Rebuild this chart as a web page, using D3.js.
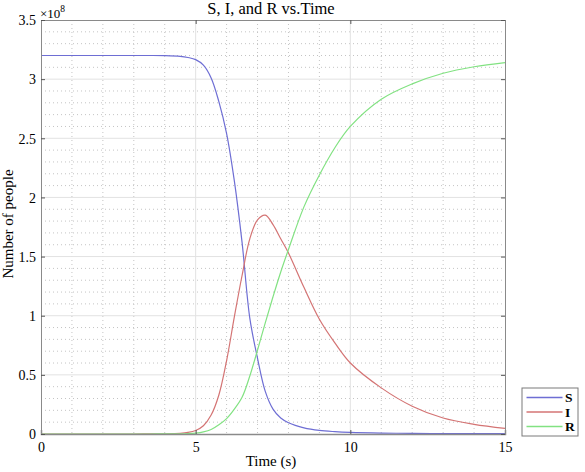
<!DOCTYPE html>
<html>
<head>
<meta charset="utf-8">
<script src="https://cdn.jsdelivr.net/npm/d3@7"></script>
<style>
  html, body { margin: 0; padding: 0; background: #fff; }
  svg { display: block; }
  svg text { font-family: 'Liberation Serif', 'Times New Roman', Times, serif !important; fill: #000; }
</style>
</head>
<body>
<svg id="chart" width="585" height="472"></svg>
<script>
// Time samples (s)
const times = [0,1,2,3,3.5,4,4.5,4.75,5,5.25,5.5,5.75,6,6.25,6.5,6.75,7,7.25,7.5,7.75,8,8.5,9,9.5,10,11,12,13,14,15];
// Values in units of 1e8 people
const sValues = [3.2,3.2,3.2,3.2,3.2,3.199,3.193,3.183,3.165,3.118,3.01,2.81,2.54,2.14,1.62,0.98,0.64,0.36,0.21,0.135,0.095,0.052,0.03,0.02,0.014,0.008,0.005,0.004,0.003,0.003];
const iValues = [0,0,0,0,0.001,0.002,0.006,0.013,0.03,0.07,0.16,0.33,0.62,0.99,1.34,1.65,1.81,1.85,1.77,1.65,1.53,1.24,0.97,0.77,0.60,0.39,0.235,0.135,0.082,0.048];
const rValues = [0,0,0,0,0,0.001,0.002,0.004,0.008,0.018,0.038,0.078,0.13,0.21,0.31,0.49,0.71,0.94,1.16,1.37,1.56,1.92,2.19,2.42,2.60,2.83,2.96,3.05,3.105,3.14];
const seriesNames = ["S","I","R"];
const seriesColors = ["#6e6ed4","#d47474","#82e282"];
const xTicks = [0,5,10,15];
const yTicks = [0,0.5,1,1.5,2,2.5,3,3.5];
const yTickLabels = ["0","0.5","1","1.5","2","2.5","3","3.5"];
const xMinor = d3.range(0,16,1);
const yMinor = d3.range(0,36,1).map(d => d/10);

const FONT = "'Liberation Serif', 'Times New Roman', Times, serif";
const svg = d3.select("#chart");
const margin = {left: 41, top: 20};
const pw = 505 - margin.left, ph = 434 - margin.top;
const g = svg.append("g").attr("transform", `translate(${margin.left},${margin.top})`);

const x = d3.scaleLinear().domain([0,15]).range([0,pw]);
const y = d3.scaleLinear().domain([0,3.5]).range([ph,0]);

// minor grid (dotted)
g.append("g").selectAll("line").data(xMinor.filter(d => d%5 !== 0)).join("line")
  .attr("x1", d => x(d)).attr("x2", d => x(d)).attr("y1", 0).attr("y2", ph)
  .attr("stroke", "#c4c4c4").attr("stroke-width", 1).attr("stroke-dasharray", "1,3");
g.append("g").selectAll("line").data(yMinor.filter(d => Math.round(d*10)%5 !== 0)).join("line")
  .attr("y1", d => y(d)).attr("y2", d => y(d)).attr("x1", 0).attr("x2", pw)
  .attr("stroke", "#c4c4c4").attr("stroke-width", 1).attr("stroke-dasharray", "1,3");
// major grid
g.append("g").selectAll("line").data(xTicks.slice(1,-1)).join("line")
  .attr("x1", d => x(d)).attr("x2", d => x(d)).attr("y1", 0).attr("y2", ph)
  .attr("stroke", "#e2e2e2").attr("stroke-width", 1);
g.append("g").selectAll("line").data(yTicks.slice(1,-1)).join("line")
  .attr("y1", d => y(d)).attr("y2", d => y(d)).attr("x1", 0).attr("x2", pw)
  .attr("stroke", "#e2e2e2").attr("stroke-width", 1);

// lines
const allSeries = [sValues, iValues, rValues];
const line = d3.line().x((d,i) => x(times[i])).y(d => y(d)).curve(d3.curveCatmullRom.alpha(0.5));
allSeries.forEach((vals, k) => {
  g.append("path").datum(vals).attr("d", line)
    .attr("fill", "none").attr("stroke", seriesColors[k]).attr("stroke-width", 1.2);
});

// axes box
const axisColor = "#8a8a8a";
const xAxisB = d3.axisBottom(x).tickValues(xTicks).tickSize(-4).tickPadding(5).tickFormat(d3.format("d"));
const xAxisT = d3.axisTop(x).tickValues(xTicks).tickSize(-4).tickFormat("");
const yAxisL = d3.axisLeft(y).tickValues(yTicks).tickSize(-4).tickPadding(5).tickFormat((d,i) => yTickLabels[i]);
const yAxisR = d3.axisRight(y).tickValues(yTicks).tickSize(-4).tickFormat("");

function style(sel) {
  sel.attr("font-family", null).attr("font-size", null);
  sel.select(".domain").attr("stroke", axisColor);
  sel.selectAll(".tick line").attr("stroke", "#555");
  sel.selectAll(".tick text").style("font-size", "14px").style("font-family", FONT).attr("fill", "#000");
}
g.append("g").attr("transform", `translate(0,${ph})`).call(xAxisB).call(style)
  .call(s => s.select(".domain").attr("stroke-width", 1.5))
  .call(s => s.selectAll(".tick text").attr("dy", "0.95em"));
g.append("g").call(xAxisT).call(style);
g.append("g").call(yAxisL).call(style)
  .call(s => s.selectAll(".tick text").attr("dy", "0.34em"));
g.append("g").attr("transform", `translate(${pw},0)`).call(yAxisR).call(style);

// exponent label
const exp = svg.append("text").attr("x", margin.left - 1).attr("y", 18).style("font-size", "13px");
exp.append("tspan").text("\u00d710");
exp.append("tspan").style("font-size", "9.5px").attr("dy", "-6").text("8");

// title
svg.append("text").attr("x", margin.left + pw/2 - 2).attr("y", 14).attr("text-anchor", "middle")
  .style("font-size", "16.5px").text("S, I, and R vs.Time");
// x label
svg.append("text").attr("x", margin.left + pw/2 - 2).attr("y", 466).attr("text-anchor", "middle")
  .style("font-size", "15px").text("Time (s)");
// y label
svg.append("text").attr("transform", `translate(13,${margin.top + ph/2 - 3}) rotate(-90)`)
  .attr("text-anchor", "middle").style("font-size", "15px").text("Number of people");

// legend
const lg = svg.append("g").attr("transform", "translate(522,388)");
lg.append("rect").attr("x", 0).attr("y", 0).attr("width", 56).attr("height", 48)
  .attr("fill", "#fff").attr("stroke", "#7a7a7a").attr("stroke-width", 1);
seriesNames.forEach((n, k) => {
  const yy = 9.5 + k*14.5;
  lg.append("line").attr("x1", 4.5).attr("x2", 40.5).attr("y1", yy).attr("y2", yy)
    .attr("stroke", seriesColors[k]).attr("stroke-width", 1.4);
  lg.append("text").attr("x", 43).attr("y", yy + 4.5).style("font-size", "13.5px")
    .attr("font-weight", "bold").text(n);
});
</script>
</body>
</html>
